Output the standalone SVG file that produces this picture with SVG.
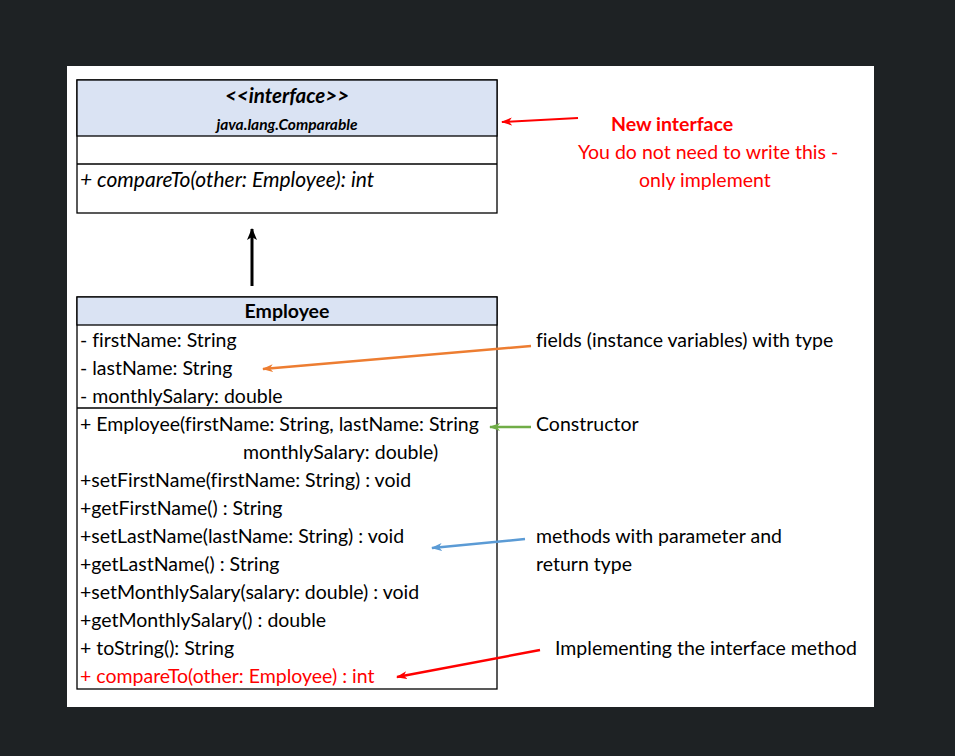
<svg xmlns="http://www.w3.org/2000/svg" width="955" height="756" viewBox="0 0 955 756">
<defs>
<style>
text{font-family:Lato,"Open Sans","Liberation Sans",sans-serif;font-size:19.5px;fill:#000;font-variant-ligatures:none}
.box{fill:#fff;stroke:#000;stroke-width:1.3}
.hdr{fill:#dae3f3;stroke:#000;stroke-width:1.3}
.sep{stroke:#000;stroke-width:1.3}
.red{fill:#ff0000}
</style>
<marker id="mkBlack" markerWidth="12" markerHeight="10" refX="11" refY="5" orient="auto" markerUnits="userSpaceOnUse" viewBox="0 0 12 10"><path d="M12,5 L0,0 L3,5 L0,10 Z" fill="#000"/></marker>
<marker id="mR" markerWidth="11" markerHeight="8" refX="10" refY="4" orient="auto" markerUnits="userSpaceOnUse" viewBox="0 0 11 8"><path d="M11,4 L0,0 L3,4 L0,8 Z" fill="#ff0000"/></marker>
<marker id="mO" markerWidth="11" markerHeight="8" refX="10" refY="4" orient="auto" markerUnits="userSpaceOnUse" viewBox="0 0 11 8"><path d="M11,4 L0,0 L3,4 L0,8 Z" fill="#ed7d31"/></marker>
<marker id="mG" markerWidth="11" markerHeight="8" refX="10" refY="4" orient="auto" markerUnits="userSpaceOnUse" viewBox="0 0 11 8"><path d="M11,4 L0,0 L3,4 L0,8 Z" fill="#70ad47"/></marker>
<marker id="mB" markerWidth="11" markerHeight="8" refX="10" refY="4" orient="auto" markerUnits="userSpaceOnUse" viewBox="0 0 11 8"><path d="M11,4 L0,0 L3,4 L0,8 Z" fill="#5b9bd5"/></marker>
</defs>
<rect x="0" y="0" width="955" height="756" fill="#1e2224"/>
<rect x="67" y="66" width="807" height="641" fill="#fff"/>

<g id="interface">
<rect class="box" x="77" y="80" width="420" height="133"/>
<rect class="hdr" x="77" y="80" width="420" height="56"/>
<line class="sep" x1="77" y1="164" x2="497" y2="164"/>
<text x="287" y="103" text-anchor="middle" font-weight="bold" font-style="italic" style="font-size:20.5px">&lt;&lt;interface&gt;&gt;</text>
<text x="287" y="130" text-anchor="middle" font-weight="bold" font-style="italic" style="font-size:15.5px">java.lang.Comparable</text>
<text x="80" y="187" font-style="italic" style="font-size:21px">+ compareTo(other: Employee): int</text>
</g>

<g id="employee">
<rect class="box" x="77" y="297" width="420" height="392"/>
<rect class="hdr" x="77" y="297" width="420" height="28"/>
<line class="sep" x1="77" y1="408" x2="497" y2="408"/>
<text x="287" y="318" text-anchor="middle" font-weight="bold">Employee</text>
<text x="80" y="347">- firstName: String</text>
<text x="80" y="375">- lastName: String</text>
<text x="80" y="403">- monthlySalary: double</text>
<text x="80" y="431">+ Employee(firstName: String, lastName: String</text>
<text x="243" y="459">monthlySalary: double)</text>
<text x="80" y="487">+setFirstName(firstName: String) : void</text>
<text x="80" y="515">+getFirstName() : String</text>
<text x="80" y="543">+setLastName(lastName: String) : void</text>
<text x="80" y="571">+getLastName() : String</text>
<text x="80" y="599">+setMonthlySalary(salary: double) : void</text>
<text x="80" y="627">+getMonthlySalary() : double</text>
<text x="80" y="655">+ toString(): String</text>
<text x="80" y="683" class="red">+ compareTo(other: Employee) : int</text>
</g>

<g id="notes">
<text x="611" y="131" class="red" font-weight="bold">New interface</text>
<text x="578" y="159" class="red">You do not need to write this -</text>
<text x="639" y="187" class="red">only implement</text>
<text x="536" y="347">fields (instance variables) with type</text>
<text x="536" y="431">Constructor</text>
<text x="536" y="543">methods with parameter and</text>
<text x="536" y="571">return type</text>
<text x="555" y="655">Implementing the interface method</text>
</g>

<g id="connectors" fill="none">
<line x1="252" y1="286" x2="252" y2="229" stroke="#000" stroke-width="3" marker-end="url(#mkBlack)"/>
<line x1="578" y1="118" x2="502" y2="122" stroke="#ff0000" stroke-width="2" marker-end="url(#mR)"/>
<line x1="531" y1="346" x2="263" y2="369" stroke="#ed7d31" stroke-width="2.5" marker-end="url(#mO)"/>
<line x1="531" y1="427" x2="490" y2="427" stroke="#70ad47" stroke-width="2.5" marker-end="url(#mG)"/>
<line x1="525" y1="539" x2="432" y2="548" stroke="#5b9bd5" stroke-width="2.5" marker-end="url(#mB)"/>
<line x1="540" y1="650" x2="397" y2="677" stroke="#ff0000" stroke-width="2.5" marker-end="url(#mR)"/>
</g>
</svg>
